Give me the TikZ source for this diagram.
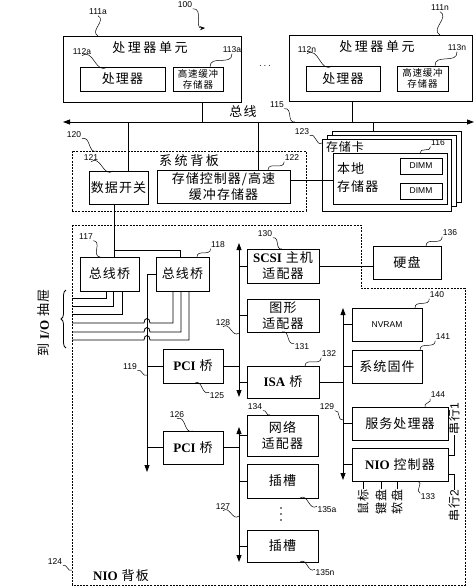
\documentclass[tikz,border=0pt]{standalone}
\usepackage{fontspec}
\setmainfont{Liberation Serif}
\newfontfamily\cjk{Noto Sans CJK SC}[LetterSpace=8]
\newfontfamily\cjkw{Noto Sans CJK SC}[LetterSpace=20]
\newfontfamily\lab{Liberation Sans}
\usetikzlibrary{arrows.meta,calc,decorations.pathreplacing}
\newcommand{\mkbox}[7][]{\node[box,#1,minimum width={(#5-#3)*1pt},minimum height={(#6-#4)*1pt}] (#2) at ({(#3+#5)/2},{(#4+#6)/2}) {#7};}
\newcommand{\numlbl}[6]{\node[num] (l#1) at (#2,#3) {#1};\coordinate (k#1) at (#5,#6);\draw[lead] (l#1.#4) to[squig] (k#1);}
\newcommand{\latb}[1]{{\rmfamily\bfseries #1}}
\begin{document}
\begin{tikzpicture}[x=1pt,y=-1pt,
 box/.style={draw,line width=0.8pt,fill=white,inner sep=0pt,outer sep=0pt,align=center,font=\fontsize{13}{16}\selectfont\cjk},
 cachetxt/.style={font=\fontsize{9.5}{11}\selectfont\cjk},
 sanstxt/.style={font=\fontsize{8.5}{10}\selectfont\lab},
 dbox/.style={draw,line width=0.8pt,dash pattern=on 2pt off 1.2pt,fill=none},
 ttl/.style={inner sep=0pt,font=\fontsize{13}{16}\selectfont\cjkw},
 txt/.style={inner sep=0pt,align=center,font=\fontsize{13}{16}\selectfont\cjk},
 num/.style={inner sep=0.5pt,font=\fontsize{8.5}{10}\selectfont\lab},
 lead/.style={line width=0.5pt},
 conn/.style={line width=0.8pt},
 endtip/.style={-{Triangle[length=7pt,width=5pt]}},
 bus/.style={conn,{Triangle[length=7pt,width=5pt]}-{Triangle[length=7pt,width=5pt]}},
 squig/.style={to path={.. controls ($(\tikztostart)!0.5!60:(\tikztotarget)$) and ($(\tikztotarget)!0.5!60:(\tikztostart)$) .. (\tikztotarget)}},
]
\useasboundingbox (0,0) rectangle (474,587);

% processor units
\mkbox{u1}{63}{36}{241}{102}{}
\node[ttl] (u1t) at (150,48) {处理器单元};
\mkbox{p1}{80}{67}{165}{91}{处理器}
\mkbox[cachetxt]{c1}{173}{67}{223}{91}{高速缓冲\\存储器}
\node[inner sep=0pt] (dots) at (265,66) {$\cdots$};
\mkbox{un}{289}{35}{472}{101}{}
\node[ttl] (unt) at (377,47) {处理器单元};
\mkbox{pn}{306}{66}{380}{91}{处理器}
\mkbox[cachetxt]{cn}{397}{66}{448}{91}{高速缓冲\\存储器}

% system bus
\coordinate (busL) at (63,122);
\coordinate (busR) at (474,122);
\draw[bus] (busL) -- (busR);
\coordinate (tu1) at (202,122);
\coordinate (tun) at (352,122);
\draw[conn] (u1.south -| tu1) -- (tu1);
\draw[conn] (un.south -| tun) -- (tun);
\node[txt] (bust) at (243,112) {总线};

% system backplane
\mkbox[dbox]{sb}{72}{151}{306}{211}{}
\node[ttl] (sbt) at (189,161) {系统背板};
\mkbox{ds}{89}{171}{148}{204}{数据开关}
\mkbox{mc}{157}{170}{290}{203}{存储控制器/高速\\缓冲存储器}
\coordinate (tds) at (128,122);
\coordinate (tmc) at (258,122);
\draw[conn] (tds) -- (ds.north -| tds);
\draw[conn] (tmc) -- (mc.north -| tmc);

% memory cards
\mkbox{card3}{332}{131}{461}{202}{}
\mkbox{card2}{327}{135}{456}{206}{}
\mkbox{card1}{322}{139}{451}{211}{}
\coordinate (tcard) at (373,122);
\draw[conn] (tcard) -- (card3.north -| tcard);
\node[txt,font=\fontsize{12}{14}\selectfont\cjk] (cardt) at (345,147) {存储卡};
\mkbox{lm}{333}{153}{447}{204}{}
\node[txt,anchor=west,align=left,font=\fontsize{13}{18}\selectfont\cjk] (lmt) at (337,178) {本地\\存储器};
\mkbox[sanstxt]{d1}{400}{158}{442}{174}{DIMM}
\mkbox[sanstxt]{d2}{400}{183}{442}{199}{DIMM}
\coordinate (mcy) at (300,180);
\draw[conn] (mc.east |- mcy) -- (lm.west |- mcy);

% NIO backplane
\draw[conn,dash pattern=on 2pt off 1.2pt] (72,225) -- (361,225) -- (361,288) -- (465,288) -- (465,585) -- (72,585) -- cycle;
\node[txt] (niot) at (121,576) {\latb{NIO} 背板};

% bus bridges
\mkbox{bb1}{80}{257}{139}{291}{总线桥}
\mkbox{bb2}{156}{257}{209}{291}{总线桥}
\coordinate (j1) at (114,250);
\coordinate (j2) at (180,250);
\draw[conn] (ds.south -| j1) -- (bb1.north -| j1);
\draw[conn] (j1) -- (j2) -- (bb2.north -| j2);

% lines to I/O drawers
\draw[conn] (bb1.south west) ++(26,0) -- ++(0,7) -- (72,298);
\draw[conn] (bb1.south west) ++(33,0) -- ++(0,15) -- (72,306);
\draw[conn] (bb1.south west) ++(42,0) -- ++(0,23) -- (72,314);
\draw[conn] (bb2.south west) ++(17,0) -- ++(0,32) -- (150,323) .. controls (150,317) and (144,317) .. (144,323) -- (72,323);
\draw[conn] (bb2.south west) ++(25,0) -- ++(0,41) -- (150,332) .. controls (150,326) and (144,326) .. (144,332) -- (72,332);
\draw[conn] (bb2.south west) ++(33,0) -- ++(0,49) -- (150,340) .. controls (150,334) and (144,334) .. (144,340) -- (72,340);
\draw[conn,decorate,decoration={brace,amplitude=5pt}] (66,348) -- (66,290);
\node[txt,rotate=90] (iot) at (44,323) {到 \latb{I/O} 抽屉};

% PCI bus 119
\coordinate (b119) at (147,274);
\draw[conn,endtip] (bb2.west) -- (b119) -- (147,472);

% PCI bridges
\mkbox{pci1}{163}{349}{223}{383}{\latb{PCI} 桥}
\mkbox{pci2}{163}{431}{223}{464}{\latb{PCI} 桥}
\coordinate (b128) at (239,320);
\coordinate (b127) at (239,500);
\draw[conn] (pci1.west -| b119) -- (pci1.west);
\draw[conn] (pci2.west -| b119) -- (pci2.west);
\draw[conn] (pci1.east) -- (pci1.east -| b128);
\draw[conn] (pci2.east) -- (pci2.east -| b127);
\draw[bus] (239,243) -- (239,397);
\draw[bus] (239,427) -- (239,562);

% adapters on bus 128
\mkbox{scsi}{247}{249}{319}{283}{\latb{SCSI} 主机\\适配器}
\mkbox{hd}{373}{246}{441}{279}{硬盘}
\mkbox{gfx}{247}{299}{319}{332}{图形\\适配器}
\mkbox{isa}{247}{366}{319}{398}{\latb{ISA} 桥}
\draw[conn] (scsi.west -| b128) -- (scsi.west);
\draw[conn] (scsi.east) -- (scsi.east -| hd.west);
\draw[conn] (gfx.west -| b128) -- (gfx.west);
\draw[conn] (isa.west -| b128) -- (isa.west);

% ISA bus 129
\coordinate (b129) at (343,400);
\draw[bus] (343,308) -- (343,480);
\draw[conn] (isa.east) -- (isa.east -| b129);
\mkbox[sanstxt]{nv}{352}{308}{422}{341}{NVRAM}
\mkbox{fw}{352}{350}{422}{383}{系统固件}
\mkbox{sp}{352}{407}{448}{440}{服务处理器}
\mkbox{nio}{352}{448}{448}{481}{\latb{NIO} 控制器}
\draw[conn] (nv.west -| b129) -- (nv.west);
\draw[conn] (fw.west -| b129) -- (fw.west);
\draw[conn] (sp.west -| b129) -- (sp.west);
\draw[conn] (nio.west -| b129) -- (nio.west);

% serial ports
\coordinate (s1) at (454,435);
\coordinate (s2) at (454,490);
\draw[conn] ($(nio.north east)+(0,7)$) -| (s1);
\draw[conn] ($(nio.south east)+(0,-7)$) -| (s2);
\node[txt,rotate=90,anchor=west,font=\fontsize{12}{14}\selectfont\cjk] (s1t) at (s1) {串行{\lab 1}};
\node[txt,rotate=90,anchor=east,font=\fontsize{12}{14}\selectfont\cjk] (s2t) at (s2) {串行{\lab 2}};

% mouse keyboard floppy
\coordinate (m1) at (363,489);
\coordinate (m2) at (381,489);
\coordinate (m3) at (397,489);
\draw[conn] (nio.south -| m1) -- (m1);
\draw[conn] (nio.south -| m2) -- (m2);
\draw[conn] (nio.south -| m3) -- (m3);
\node[txt,rotate=90,anchor=east,font=\fontsize{12}{14}\selectfont\cjk] (m1t) at (m1) {鼠标};
\node[txt,rotate=90,anchor=east,font=\fontsize{12}{14}\selectfont\cjk] (m2t) at (m2) {键盘};
\node[txt,rotate=90,anchor=east,font=\fontsize{12}{14}\selectfont\cjk] (m3t) at (m3) {软盘};

% bus 127 devices
\mkbox{net}{247}{415}{318}{456}{网络\\适配器}
\mkbox{sl1}{247}{464}{318}{498}{插槽}
\mkbox{sln}{247}{530}{318}{562}{插槽}
\draw[conn] (net.west -| b127) -- (net.west);
\draw[conn] (sl1.west -| b127) -- (sl1.west);
\draw[conn] (sln.west -| b127) -- (sln.west);
\foreach \yy in {508,514,520} \fill (281,\yy) circle[radius=0.9pt];

% reference numerals
\node[num] (l100) at (185,5) {100};
\coordinate (k100) at (205,28);
\draw[lead,-{Stealth[length=5pt,width=4pt]}] (l100.south east) to[squig] (k100);
\numlbl{111a}{98}{12}{south}{98}{36}
\numlbl{112a}{82}{52}{south}{107}{67}
\numlbl{113a}{232}{50}{south}{210}{67}
\numlbl{111n}{440}{8}{south}{440}{35}
\numlbl{112n}{307}{50}{south}{332}{66}
\numlbl{113n}{457}{48}{south}{435}{66}
\numlbl{115}{277}{105}{south east}{295}{122}
\numlbl{120}{74}{135}{south east}{97}{151}
\numlbl{121}{91}{158}{south}{113}{171}
\numlbl{122}{292}{158}{south west}{268}{170}
\numlbl{123}{302}{132}{south east}{322}{143}
\numlbl{116}{438}{143}{south west}{420}{153}
\numlbl{117}{86}{237}{south east}{100}{257}
\numlbl{118}{218}{245}{south west}{197}{257}
\numlbl{128}{223}{323}{south}{239}{333}
\numlbl{119}{130}{367}{south east}{147}{375}
\numlbl{125}{217}{396}{north west}{195}{383}
\numlbl{126}{177}{415}{south}{193}{431}
\numlbl{127}{223}{507}{south}{239}{516}
\numlbl{124}{55}{562}{south east}{72}{570}
\numlbl{130}{265}{234}{south east}{282}{249}
\numlbl{136}{450}{233}{south west}{426}{246}
\numlbl{131}{302}{347}{north west}{282}{332}
\numlbl{132}{329}{354}{south west}{305}{366}
\numlbl{140}{437}{295}{south west}{415}{308}
\numlbl{141}{443}{337}{south west}{420}{350}
\numlbl{134}{255}{407}{south east}{270}{415}
\numlbl{129}{327}{407}{south east}{343}{420}
\numlbl{144}{438}{395}{south west}{425}{407}
\numlbl{133}{428}{497}{north west}{418}{481}
\numlbl{135a}{327}{510}{north west}{300}{498}
\numlbl{135n}{325}{573}{north west}{300}{562}
\end{tikzpicture}
\end{document}
